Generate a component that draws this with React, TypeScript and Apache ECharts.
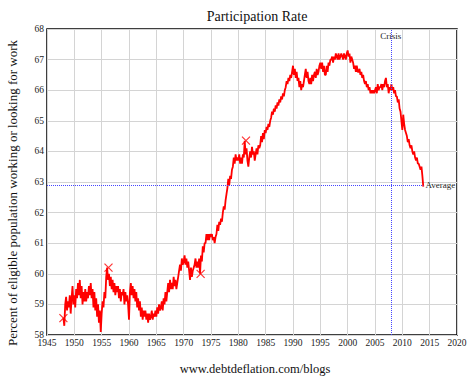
import React, { useEffect, useRef } from "react";
import * as echarts from "echarts";

const chartTitle = "Participation Rate";
const yAxisTitle = "Percent of eligible population working or looking for work";
const sourceText = "www.debtdeflation.com/blogs";

const firstYear = 1948;
const stepYears = 1 / 6;
// Bi-monthly readings, 1948 .. 2013
const rate: number[] = [
  58.55, 58.3, 59.0, 59.25, 58.8, 59.1, // 1948
  58.9, 59.3, 58.7, 59.2, 59.6, 59.0, // 1949
  59.3, 58.9, 59.5, 59.2, 59.7, 59.3, // 1950
  59.8, 59.2, 59.6, 59.0, 59.4, 59.1, // 1951
  59.5, 59.1, 59.4, 59.2, 59.6, 59.3, // 1952
  59.7, 59.2, 59.5, 58.9, 59.4, 58.8, // 1953
  59.2, 58.6, 59.0, 58.4, 58.8, 58.1, // 1954
  58.7, 59.1, 58.9, 59.4, 59.2, 59.9, // 1955
  60.2, 59.8, 60.0, 59.6, 59.9, 59.5, // 1956
  59.8, 59.4, 59.7, 59.3, 59.6, 59.4, // 1957
  59.6, 59.2, 59.5, 59.1, 59.4, 59.3, // 1958
  59.5, 59.0, 59.4, 59.1, 59.3, 59.0, // 1959
  58.5, 59.4, 59.7, 59.3, 59.6, 59.2, // 1960
  59.5, 59.1, 59.4, 58.9, 59.2, 58.8, // 1961
  59.1, 58.6, 58.9, 58.5, 58.8, 58.6, // 1962
  58.8, 58.5, 58.7, 58.4, 58.7, 58.5, // 1963
  58.6, 58.8, 58.5, 58.7, 58.6, 58.8, // 1964
  58.6, 58.9, 58.7, 59.0, 58.8, 58.9, // 1965
  59.1, 58.8, 59.2, 59.0, 59.4, 59.1, // 1966
  59.4, 59.7, 59.4, 59.8, 59.5, 59.7, // 1967
  59.5, 59.9, 59.6, 59.8, 59.5, 59.7, // 1968
  59.9, 60.1, 60.3, 60.1, 60.5, 60.3, // 1969
  60.4, 60.6, 60.3, 60.5, 60.2, 60.4, // 1970
  60.1, 59.8, 60.2, 59.9, 60.1, 60.2, // 1971
  60.3, 60.5, 60.2, 60.4, 60.2, 60.5, // 1972
  60.0, 60.6, 60.4, 60.9, 60.7, 61.0, // 1973
  61.0, 61.3, 61.1, 61.3, 61.1, 61.3, // 1974
  61.2, 61.3, 61.1, 61.2, 61.0, 61.2, // 1975
  61.3, 61.6, 61.4, 61.7, 61.6, 61.8, // 1976
  61.7, 62.0, 62.2, 62.1, 62.4, 62.6, // 1977
  62.8, 63.1, 62.9, 63.2, 63.1, 63.4, // 1978
  63.5, 63.8, 63.6, 63.9, 63.7, 63.8, // 1979
  63.7, 63.9, 63.6, 63.8, 63.6, 63.9, // 1980
  63.8, 64.35, 63.9, 64.1, 63.7, 63.5, // 1981
  63.8, 64.0, 63.8, 64.15, 63.9, 64.0, // 1982
  63.7, 63.9, 64.1, 63.9, 64.2, 64.1, // 1983
  64.2, 64.5, 64.3, 64.6, 64.4, 64.7, // 1984
  64.6, 64.8, 64.7, 64.9, 64.8, 65.0, // 1985
  65.1, 65.3, 65.2, 65.4, 65.3, 65.5, // 1986
  65.4, 65.6, 65.5, 65.7, 65.6, 65.8, // 1987
  65.7, 65.9, 65.8, 66.0, 66.1, 66.3, // 1988
  66.2, 66.4, 66.3, 66.5, 66.4, 66.6, // 1989
  66.8, 66.5, 66.7, 66.4, 66.6, 66.3, // 1990
  66.4, 66.1, 66.3, 66.0, 66.2, 66.1, // 1991
  66.3, 66.5, 66.7, 66.4, 66.6, 66.3, // 1992
  66.2, 66.4, 66.2, 66.5, 66.3, 66.5, // 1993
  66.6, 66.4, 66.7, 66.5, 66.6, 66.8, // 1994
  66.9, 66.7, 66.9, 66.6, 66.8, 66.5, // 1995
  66.5, 66.8, 66.6, 66.9, 66.8, 67.0, // 1996
  67.0, 67.1, 66.9, 67.1, 67.0, 67.2, // 1997
  67.1, 67.0, 67.2, 67.0, 67.1, 67.2, // 1998
  67.1, 67.0, 67.2, 67.1, 67.0, 67.2, // 1999
  67.3, 67.1, 67.2, 66.9, 67.1, 67.0, // 2000
  66.9, 66.7, 66.8, 66.6, 66.8, 66.6, // 2001
  66.6, 66.7, 66.5, 66.6, 66.4, 66.5, // 2002
  66.3, 66.2, 66.3, 66.1, 66.2, 66.0, // 2003
  66.1, 65.9, 66.0, 65.9, 66.0, 65.9, // 2004
  66.0, 66.1, 65.9, 66.2, 66.0, 66.1, // 2005
  66.1, 66.2, 66.0, 66.2, 66.1, 66.3, // 2006
  66.4, 66.1, 66.2, 65.9, 66.1, 66.0, // 2007
  66.2, 66.0, 66.1, 65.9, 66.0, 65.8, // 2008
  65.8, 65.6, 65.7, 65.4, 65.3, 65.0, // 2009
  64.7, 65.2, 64.9, 64.7, 64.6, 64.5, // 2010
  64.3, 64.4, 64.2, 64.1, 64.2, 64.0, // 2011
  63.9, 64.0, 63.8, 63.7, 63.8, 63.6, // 2012
  63.6, 63.5, 63.4, 63.5, 63.2, 62.85, // 2013
];

const crossYears = [1948.0, 1956.25, 1973.1, 1981.4];
const crossValues = [58.55, 60.2, 60.0, 64.35];

const averageValue = 62.9;
const averageEndYear = 2013.85;
const crisisYear = 2007.9;
const crisisLabelValue = 67.77;

const xMin = 1945;
const xMax = 2020;
const xStep = 5;
const yMin = 58;
const yMax = 68;
const yStep = 1;

const serif = "Liberation Serif";

export default function App() {
  const ref = useRef<HTMLDivElement>(null);
  useEffect(() => {
    if (!ref.current) return;
    const chart = echarts.init(ref.current, undefined, { renderer: "svg" });
    const lineData = rate.map((v, i) => [firstYear + i * stepYears, v]);
    const crossData = crossYears.map((y, i) => [y, crossValues[i]]);
    const dotted = { type: "dotted" as const, color: "#4646ff", width: 1 };
    chart.setOption({
      animation: false,
      backgroundColor: "#ffffff",
      textStyle: { fontFamily: serif },
      title: {
        text: chartTitle,
        left: 252,
        top: 4,
        textAlign: "center",
        textStyle: { fontFamily: serif, fontSize: 14, fontWeight: "normal", color: "#111" },
      },
      graphic: [
        {
          type: "text",
          x: 12,
          y: 193,
          rotation: Math.PI / 2,
          style: {
            text: yAxisTitle,
            fontFamily: serif,
            fontSize: 13,
            fill: "#111",
            textAlign: "center",
            textVerticalAlign: "middle",
          },
        },
        {
          type: "text",
          x: 255,
          y: 369,
          style: {
            text: sourceText,
            fontFamily: serif,
            fontSize: 12.5,
            fill: "#111",
            textAlign: "center",
            textVerticalAlign: "middle",
          },
        },
      ],
      grid: {
        left: 47,
        right: 17,
        top: 29,
        bottom: 43,
        show: true,
        borderColor: "#000",
        borderWidth: 1.5,
        backgroundColor: "#fff",
      },
      xAxis: {
        type: "value",
        min: xMin,
        max: xMax,
        interval: xStep,
        axisLine: { show: false },
        axisTick: { show: false },
        axisLabel: {
          fontFamily: serif,
          fontSize: 9.5,
          color: "#222",
          margin: 3,
          formatter: (v: number) => String(v),
        },
        splitLine: { show: true, lineStyle: { color: "#d4d4d4", width: 1 } },
      },
      yAxis: {
        type: "value",
        min: yMin,
        max: yMax,
        interval: yStep,
        axisLine: { show: false },
        axisTick: { show: false },
        axisLabel: {
          fontFamily: serif,
          fontSize: 9.5,
          color: "#222",
          margin: 3,
          formatter: (v: number) => String(v),
        },
        splitLine: { show: true, lineStyle: { color: "#d4d4d4", width: 1 } },
      },
      series: [
        {
          type: "line",
          data: lineData,
          showSymbol: false,
          symbol: "none",
          lineStyle: { color: "#ff0000", width: 1.8 },
          z: 3,
          markLine: {
            silent: true,
            symbol: ["none", "none"],
            label: { show: false },
            lineStyle: dotted,
            data: [
              [{ coord: [xMin, averageValue] }, { coord: [averageEndYear, averageValue] }],
              [{ coord: [crisisYear, yMin] }, { coord: [crisisYear, yMax] }],
            ],
          },
          markPoint: {
            symbol: "circle",
            symbolSize: 0,
            data: [
              {
                coord: [averageEndYear, averageValue],
                label: {
                  show: true,
                  position: "right",
                  distance: 2,
                  formatter: "Average",
                  fontFamily: serif,
                  fontSize: 9,
                  color: "#222",
                },
              },
              {
                coord: [crisisYear, crisisLabelValue],
                label: {
                  show: true,
                  position: "inside",
                  formatter: "Crisis",
                  fontFamily: serif,
                  fontSize: 9,
                  color: "#222",
                },
              },
            ],
          },
        },
        {
          type: "scatter",
          data: crossData,
          symbol: "path://M0,0L10,10M10,0L0,10",
          symbolSize: 8,
          itemStyle: { color: "transparent", borderColor: "#ff0000", borderWidth: 1.2 },
          z: 4,
        },
      ],
    });
    return () => chart.dispose();
  }, []);
  return (
    <div
      ref={ref}
      style={{ position: "fixed", left: 0, top: 0, width: 474, height: 378 }}
    />
  );
}
